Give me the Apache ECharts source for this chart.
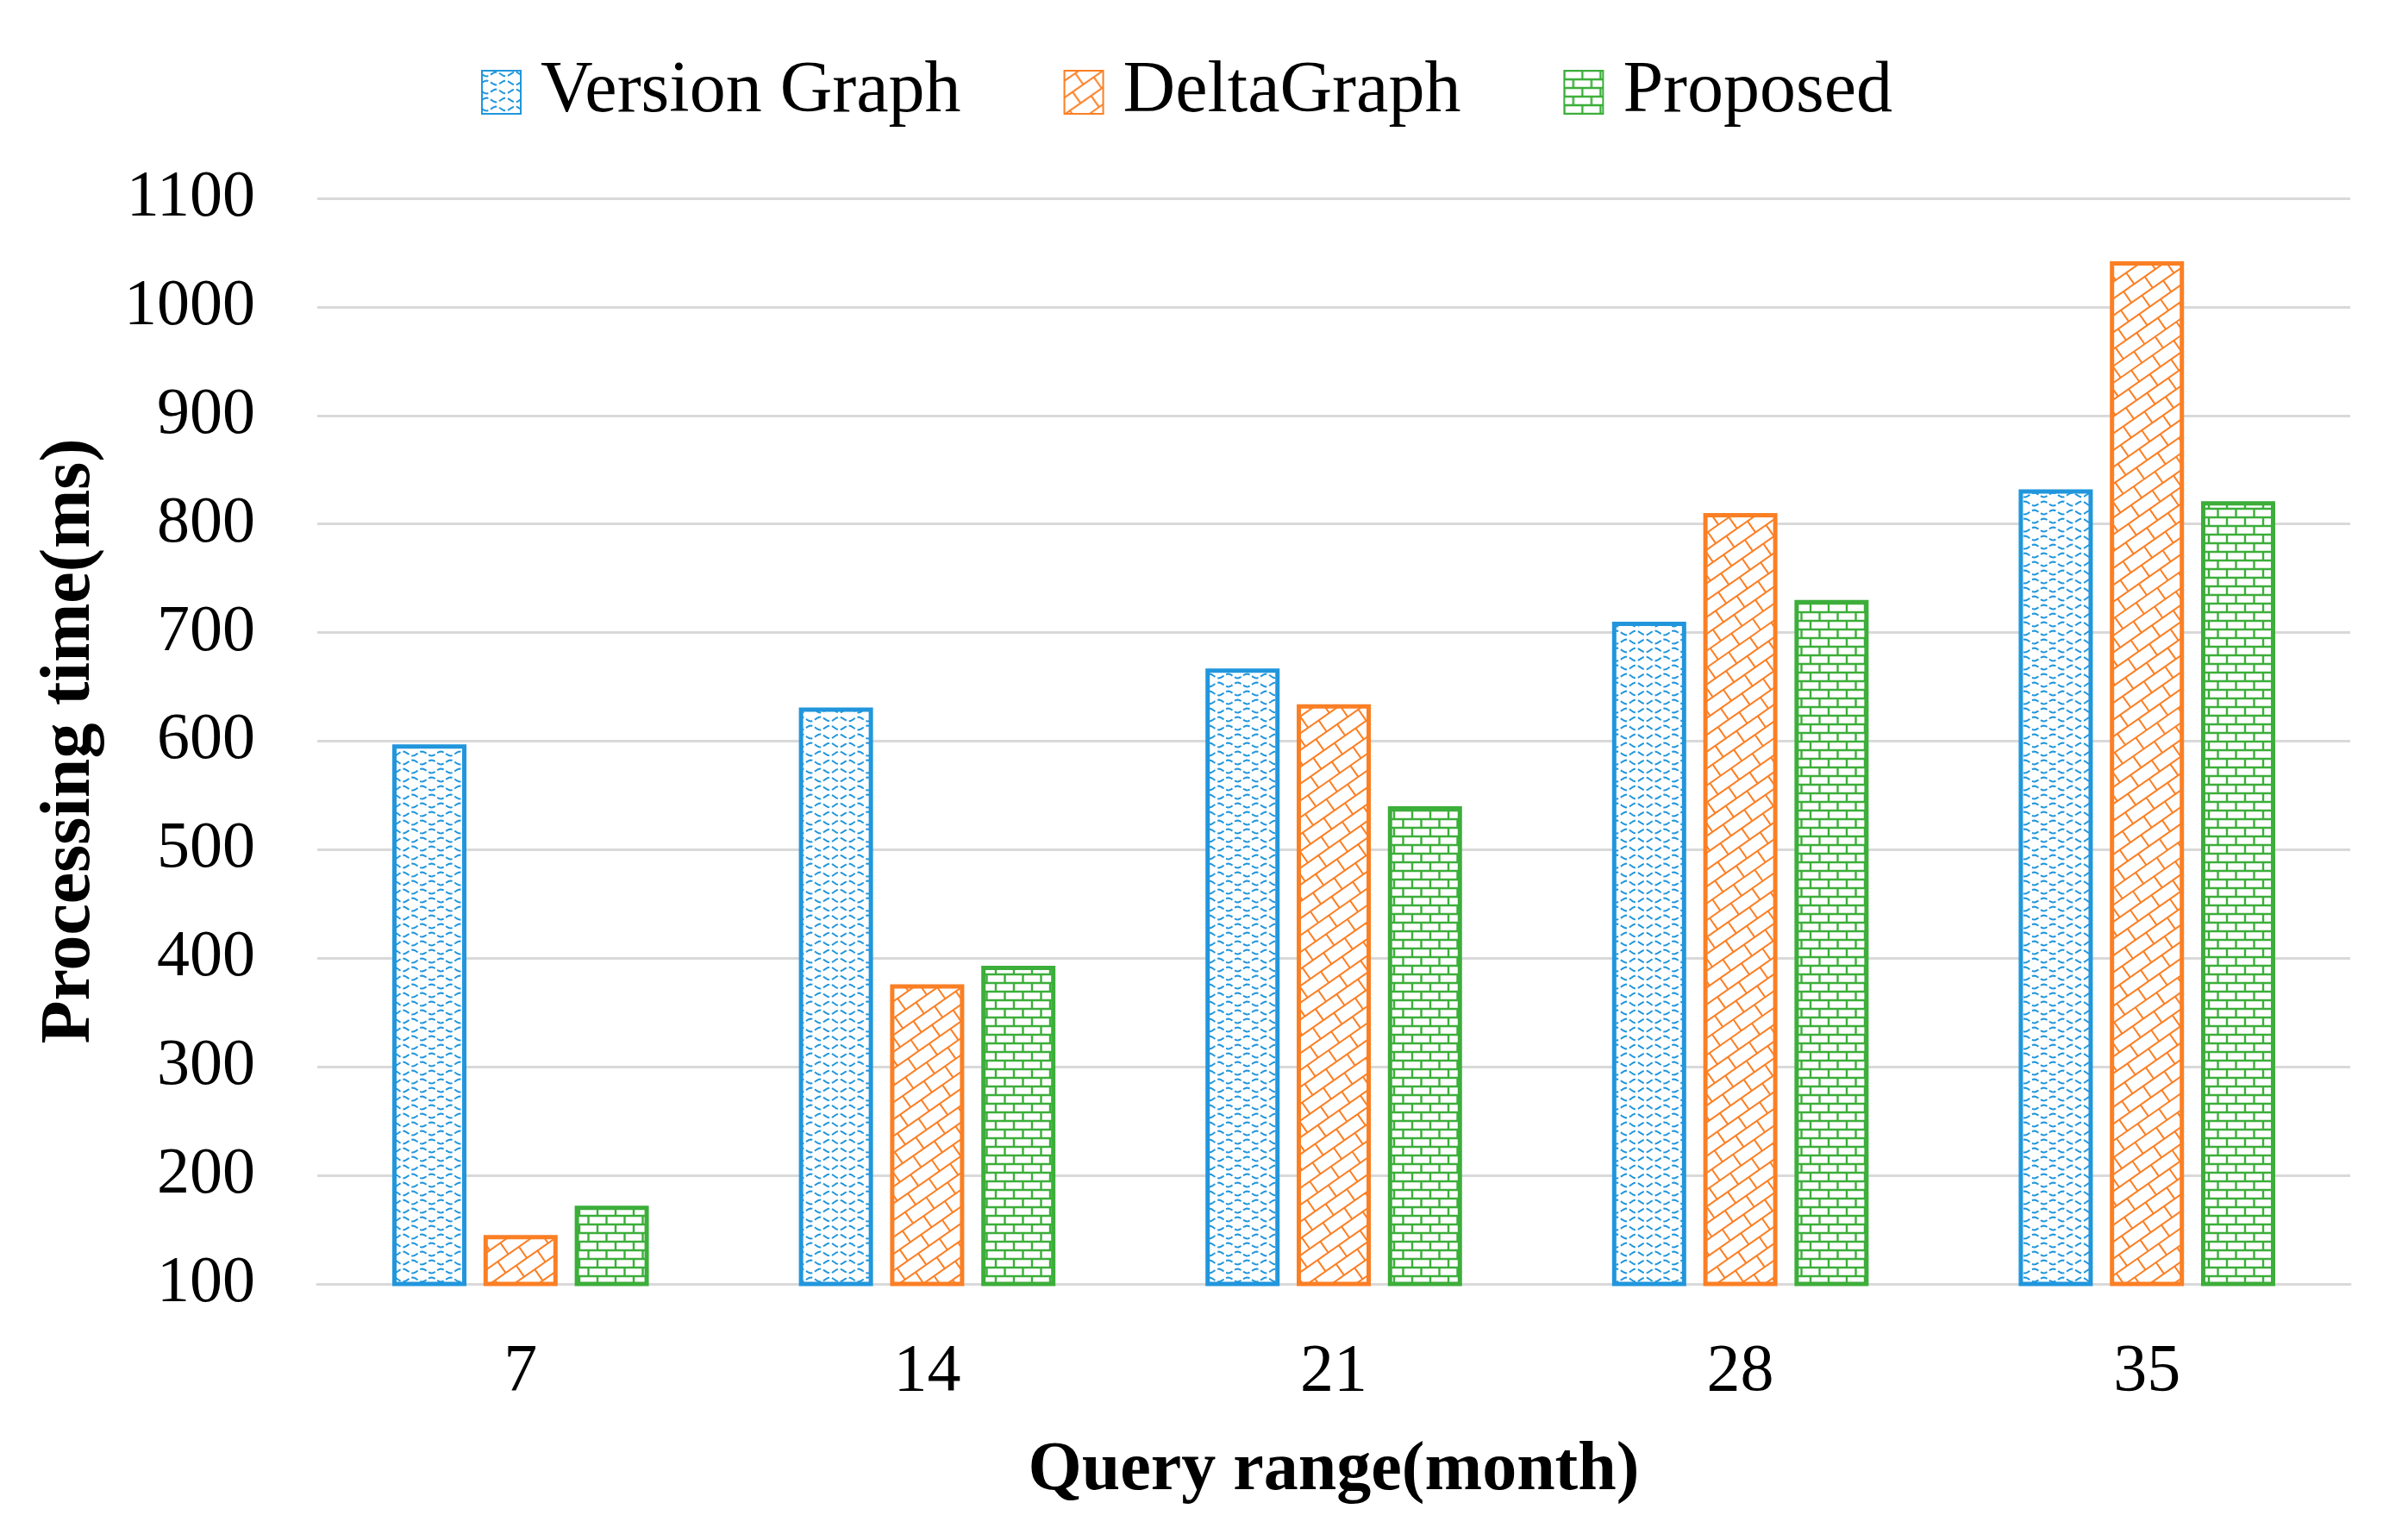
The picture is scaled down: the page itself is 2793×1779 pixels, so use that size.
<!DOCTYPE html>
<html>
<head>
<meta charset="utf-8">
<script src="https://cdn.jsdelivr.net/npm/echarts@6/dist/echarts.min.js"></script>
<style>html,body{margin:0;padding:0;background:#fff}#c{width:2793px;height:1779px}</style>
</head>
<body>
<div id="c"></div>
<script>
const categories = ['7', '14', '21', '28', '35'];
const versionGraph = [597, 631, 667, 710, 832];
const deltaGraph = [145, 376, 634, 810, 1042];
const proposed = [172, 393, 540, 730, 821];
const yTicks = { min: 100, max: 1100, interval: 100 };

const BLUE = '#2196dc', ORANGE = '#fb7f24', GREEN = '#3cae3a';
const W = 2793, H = 1779;

function mk() { const c = document.createElement('canvas'); c.width = W; c.height = H; const x = c.getContext('2d'); x.fillStyle = '#fff'; x.fillRect(0,0,W,H); return [c, x]; }

function wavePattern() {
  const [c, x] = mk();
  x.strokeStyle = BLUE; x.lineWidth = 2;
  const rowH = 10, wl = 22, amp = 2.4;
  x.setLineDash([8, 3]);
  for (let r = 0, y0 = 4; y0 < H; r++, y0 += rowH) {
    x.beginPath();
    const off = (r % 2) * wl / 2;
    for (let px = 0; px <= W; px += 2) {
      const yy = y0 + amp * Math.sin((px + off) / wl * 2 * Math.PI);
      if (px === 0) x.moveTo(px, yy); else x.lineTo(px, yy);
    }
    x.stroke();
  }
  return c;
}
function diagPattern() {
  const [c, x] = mk();
  x.strokeStyle = ORANGE; x.lineWidth = 2;
  x.save();
  x.translate(W / 2, H / 2);
  x.rotate(-35 * Math.PI / 180);
  const R = 2200, s = 16, L = 30;
  for (let k = -Math.ceil(R / s); k * s < R; k++) {
    const v = k * s;
    x.beginPath(); x.moveTo(-R, v); x.lineTo(R, v); x.stroke();
    const off = (((k % 2) + 2) % 2) * L / 2;
    x.beginPath();
    for (let u = -R + off; u < R; u += L) { x.moveTo(u, v); x.lineTo(u, v + s); }
    x.stroke();
  }
  x.restore();
  return c;
}
function brickPattern() {
  const [c, x] = mk();
  x.strokeStyle = GREEN; x.lineWidth = 2.4;
  const rowH = 10, bw = 21;
  for (let r = 0, y = 0; y < H; r++, y += rowH) {
    x.beginPath(); x.moveTo(0, y); x.lineTo(W, y); x.stroke();
    const off = (r % 2) * bw / 2;
    x.beginPath();
    for (let px = off; px < W; px += bw) { x.moveTo(px, y); x.lineTo(px, y + rowH); }
    x.stroke();
  }
  return c;
}

const pats = [wavePattern(), diagPattern(), brickPattern()];
const names = ['Version Graph', 'DeltaGraph', 'Proposed'];
const datas = [versionGraph, deltaGraph, proposed];
const cols = [BLUE, ORANGE, GREEN];
const FONT = 'Liberation Serif';

const chart = echarts.init(document.getElementById('c'), null, { renderer: 'canvas' });
chart.setOption({
  backgroundColor: '#fff',
  animation: false,
  legend: {
    top: 60, left: 553, icon: 'rect', itemWidth: 45, itemHeight: 50, itemGap: 119,
    textStyle: { fontFamily: FONT, fontSize: 84, color: '#000', padding: [0, 0, 0, 18] },
    data: names
  },
  grid: { left: 368, right: 67, top: 230, bottom: 290 },
  xAxis: {
    type: 'category', data: categories,
    axisLine: { show: true, lineStyle: { color: '#d9d9d9', width: 3 } },
    axisTick: { show: false },
    axisLabel: { fontFamily: FONT, fontSize: 78, color: '#000', margin: 64 },
    name: 'Query range(month)', nameLocation: 'middle', nameGap: 177,
    nameTextStyle: { fontFamily: FONT, fontSize: 80, fontWeight: 'bold', color: '#000' }
  },
  yAxis: {
    type: 'value', min: yTicks.min, max: yTicks.max, interval: yTicks.interval,
    axisLine: { show: false }, axisTick: { show: false },
    splitLine: { lineStyle: { color: '#d9d9d9', width: 3 } },
    axisLabel: { fontFamily: FONT, fontSize: 76, color: '#000', margin: 72, formatter: v => String(v) },
    name: 'Processing time(ms)', nameLocation: 'middle', nameGap: 245, nameRotate: 90,
    nameTextStyle: { fontFamily: FONT, fontSize: 82, fontWeight: 'bold', color: '#000' }
  },
  series: names.map((n, i) => ({
    name: n, type: 'bar', data: datas[i], barWidth: 86, barGap: '23%',
    itemStyle: { color: { image: pats[i], repeat: 'repeat' }, borderColor: cols[i], borderWidth: 5 }
  }))
});
</script>
</body>
</html>
